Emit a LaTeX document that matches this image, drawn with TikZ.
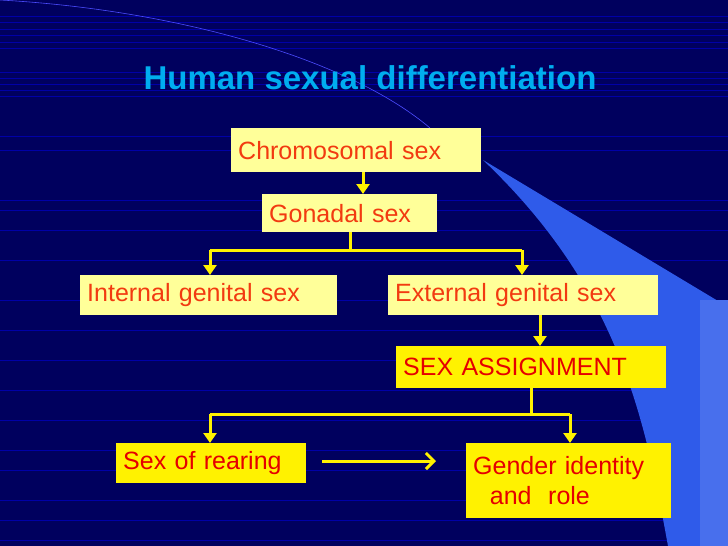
\documentclass[tikz,border=0pt]{standalone}
\usepackage{fontspec}
\setmainfont{Liberation Sans}
\usetikzlibrary{arrows.meta,positioning}
\definecolor{navy}{HTML}{00005E}
\definecolor{wave}{HTML}{2F5BEA}
\definecolor{paleyel}{HTML}{FFFF99}
\definecolor{txtred}{HTML}{F23A10}
\tikzset{
  sexbox/.style={fill=paleyel, text=txtred, anchor=north west, inner xsep=7pt, inner ysep=0pt, align=left, font=\fontsize{25}{30}\selectfont},
  brightbox/.style={sexbox, fill=yellow, text=red!90!black},
  arrow/.style={draw=yellow, line width=3pt, -{Triangle[length=10pt,width=13pt]}},
  link/.style={draw=yellow, line width=3pt}
}
\begin{document}
\begin{tikzpicture}[x=1pt,y=-1pt]
        \useasboundingbox (0,0) rectangle (728,546);
        % background
        \fill[navy] (0,0) rectangle (728,546);
        \foreach \y in {16,22,29,35,42,48,72,78,84,90,96,136,150,200,210,230,260,300,330,360,390,420,450,470,500,520,540}
          \draw[blue!45!navy, line width=0.4pt] (0,\y) -- (728,\y);
        \fill[wave] (483,160) -- (728,307) -- (728,546) -- (668,546)
          .. controls (645,420) and (620,290) .. (483,160);
        \fill[wave!88!white] (700,300) rectangle (728,546);
        \draw[blue!70!white, line width=0.6pt] (0,0) .. controls (180,10) and (350,60) .. (430,128);
        % title
        \node[text=cyan, font=\bfseries\fontsize{33}{38}\selectfont] (title) at (370,78) {Human sexual differentiation};
        % boxes
        \node[sexbox, text width=236pt, minimum height=44pt] (chrom) at (231,128) {Chromosomal sex};
        \node[sexbox, text width=161pt, minimum height=38pt] (gonad) at (262,194) {Gonadal sex};
        \node[sexbox, text width=243pt, minimum height=40pt, inner xsep=7pt] (internal) at (80,275) {Internal genital sex};
        \node[sexbox, text width=256pt, minimum height=40pt] (external) at (388,275) {External genital sex};
        \node[brightbox, text width=256pt, minimum height=42pt] (assign) at (396,346) {SEX ASSIGNMENT};
        \node[brightbox, text width=176pt, minimum height=40pt] (rearing) at (116,443) {Sex of rearing};
        \node[brightbox, text width=191pt, minimum height=75pt] (gender) at (466,443) {Gender identity\\\ \ and\ \ role};
        % connectors
        \coordinate (c1) at (363,0);
        \coordinate (e1) at (540,0);
        \coordinate (g1) at (350,250);
        \coordinate (g2) at (210,250);
        \coordinate (g3) at (522,250);
        \coordinate (a1) at (531,414);
        \coordinate (a2) at (210,414);
        \coordinate (a3) at (570,414);
        \coordinate (r1) at (322,461);
        \coordinate (r2) at (436,461);
        \draw[arrow] (chrom.south -| c1) -- (gonad.north -| c1);
        \draw[link] (gonad.south -| g1) -- (g1);
        \draw[link] (g2) -- (g3);
        \draw[arrow] (g2) -- (internal.north -| g2);
        \draw[arrow] (g3) -- (external.north -| g3);
        \draw[arrow] (external.south -| e1) -- (assign.north -| e1);
        \draw[link] (assign.south -| a1) -- (a1);
        \draw[link] (a2) -- (a3);
        \draw[arrow] (a2) -- (rearing.north -| a2);
        \draw[arrow] (a3) -- (gender.north -| a3);
        \draw[draw=yellow, line width=3pt, -{Straight Barb[length=8pt,width=16pt]}] (r1) -- (r2);
\end{tikzpicture}
\end{document}
